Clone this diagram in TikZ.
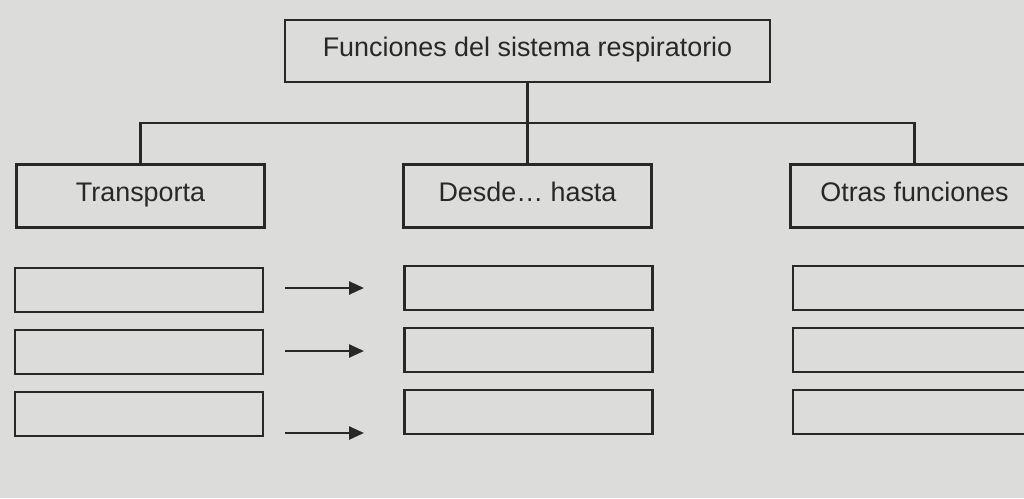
\documentclass[tikz,border=0pt]{standalone}
\usepackage{fontspec}
\setmainfont{Liberation Sans}
\usetikzlibrary{arrows.meta}

\definecolor{paper}{RGB}{220,220,218}
\definecolor{ink}{RGB}{40,40,40}

\tikzset{
		chart/.style={
			every node/.style={draw=ink,line width=1.2pt,inner sep=0pt,text=ink,text height=0.9em,text depth=0.25em},
			level 1/.style={sibling distance=77.4mm},
			level distance=29mm,
			edge from parent/.style={draw=ink,line width=1.5pt},
			edge from parent path={(\tikzparentnode.south) -- ++(0,-8mm) -| (\tikzchildnode.north)},
			every child node/.style={minimum width=49.6mm,minimum height=12.6mm}
		},
		boxfont/.style={font=\fontsize{15.3}{18}\selectfont},
		title/.style={minimum width=97mm,minimum height=12.4mm},
		blank/.style={draw=ink,line width=1.2pt,minimum width=49.6mm,minimum height=8.8mm,inner sep=0pt},
		pointer/.style={draw=ink,line width=1.4pt,-{Triangle[length=3mm,width=2.6mm]}}
	}

\begin{document}
\begin{tikzpicture}[x=0.2mm,y=-0.2mm]
	\useasboundingbox (0,0) rectangle (1024,498);
	\clip (0,0) rectangle (1024,498);
	\fill[paper] (0,0) rectangle (1024,498);

	\begin{scope}[chart, boxfont]
				\node[title] (root) at (527.5,51) {Funciones del sistema respiratorio}
				child{
					node (trans) {Transporta}
				}
				child{
					node (desde) {Desde… hasta}
				}
				child{
					node (otras) {Otras funciones}
				};
	\end{scope}

	% casillas vacias
	\foreach \row/\yl/\ym in {1/290/288,2/352/350,3/414/412}{
		\node[blank] (left\row) at (139,\yl) {};
		\node[blank] (mid\row) at (528.5,\ym) {};
		\node[blank] (right\row) at (917,\ym) {};
	}

	% flechas
	\foreach \row/\y in {1/288,2/351,3/433}{
		\coordinate (from\row) at (285,\y);
		\coordinate (to\row) at (364,\y);
		\draw[pointer] (from\row) -- (to\row);
	}
\end{tikzpicture}
\end{document}
